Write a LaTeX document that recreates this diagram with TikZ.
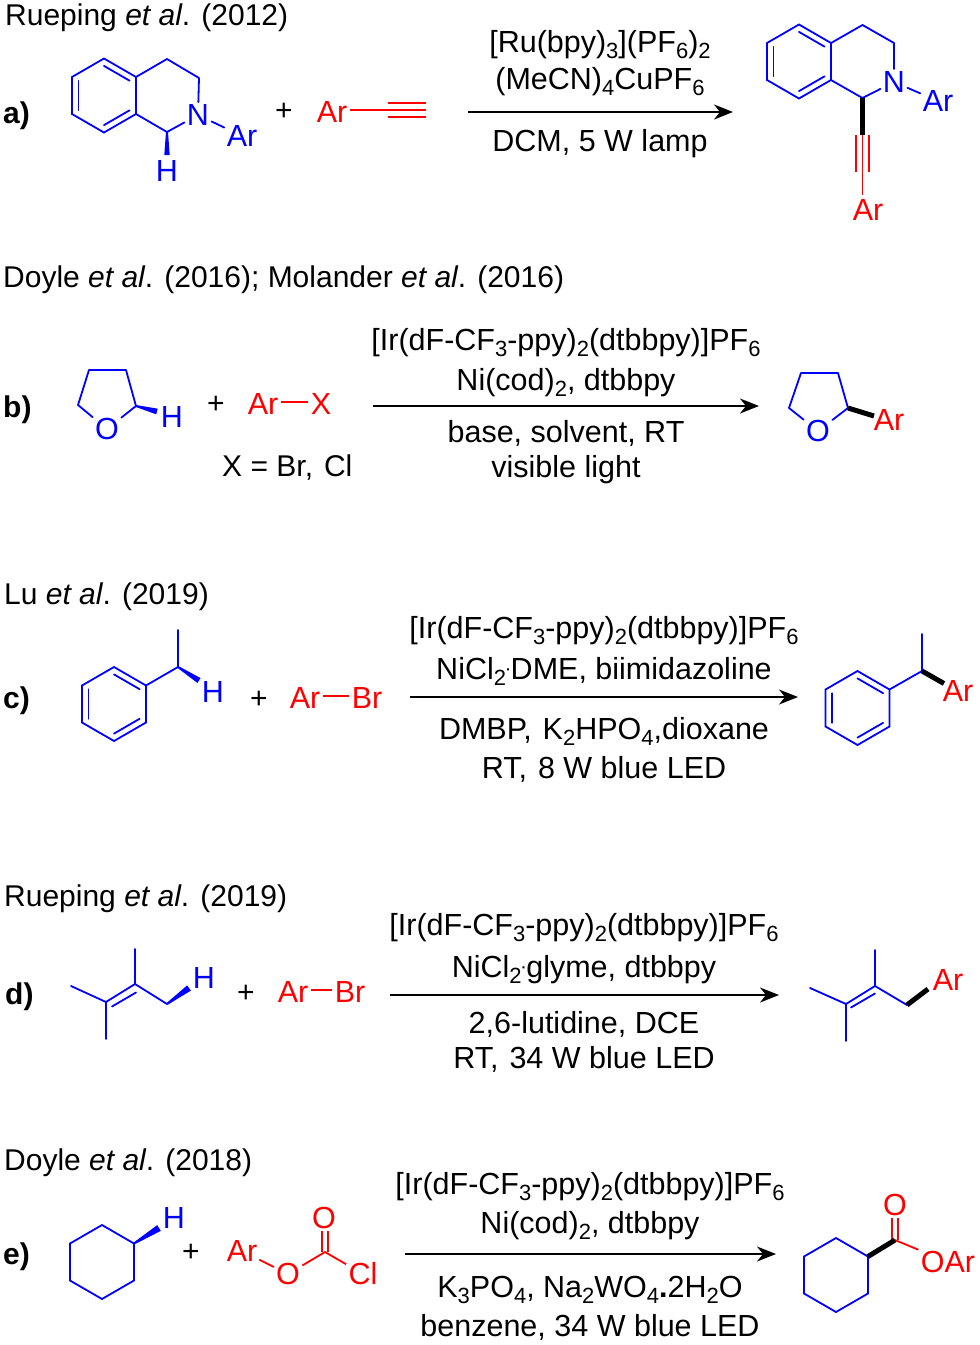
\documentclass[tikz,border=0pt]{standalone}
\usepackage{fontspec}
\setmainfont{Liberation Sans}
\usetikzlibrary{calc,arrows.meta}
\definecolor{cblue}{RGB}{0,0,255}
\definecolor{cred}{RGB}{255,0,0}
\newcommand\subs[1]{\raisebox{-6pt}{\fontsize{22}{22}\selectfont #1}}
\newcommand\gapp{\hspace{11pt}}
\newcommand\hexat[3]{%
  \coordinate (#1c) at (#2,#3);
  \coordinate (#11) at (#2,#3-37);
  \coordinate (#12) at (#2+32,#3-18.5);
  \coordinate (#13) at (#2+32,#3+18.5);
  \coordinate (#14) at (#2,#3+37);
  \coordinate (#15) at (#2-32,#3+18.5);
  \coordinate (#16) at (#2-32,#3-18.5);}
\newcommand\hexdraw[2][bond]{\draw[#1,line join=miter] (#21)--(#22)--(#23)--(#24)--(#25)--(#26)--cycle;}
\newcommand\hexkek[1]{%
  \draw[bond] ($(#11)!.2!(#1c)$)--($(#12)!.2!(#1c)$);
  \draw[bond] ($(#13)!.2!(#1c)$)--($(#14)!.2!(#1c)$);
  \draw[bond] ($(#15)!.2!(#1c)$)--($(#16)!.2!(#1c)$);}
% wedge: colour, half width at the wide end, narrow atom, wide end
\newcommand\wedgeb[4]{\fill[#1] ($(#3)!1pt!90:(#4)$) -- ($(#4)!#2!-90:(#3)$) -- ($(#4)!#2!90:(#3)$) -- ($(#3)!1pt!-90:(#4)$) -- cycle;}
\tikzset{
  x=1pt,y=-1pt,
  bond/.style={cblue,line width=1.8pt,line cap=round},
  rbond/.style={cred,line width=1.8pt,line cap=butt},
  hbond/.style={black,line width=5pt,line cap=butt},
  hd/.style={anchor=base west,inner sep=0pt,font=\fontsize{30}{30}\selectfont},
  lab/.style={anchor=base west,inner sep=0pt,font=\fontsize{30}{30}\selectfont\bfseries},
  cond/.style={anchor=base,inner sep=0pt,font=\fontsize{30.5}{30.5}\selectfont},
  plusn/.style={anchor=center,inner sep=0pt,font=\fontsize{30}{30}\selectfont},
  ab/.style={anchor=center,inner sep=0pt,outer sep=2.5pt,text=cblue,font=\fontsize{30.5}{30.5}\selectfont},
  ar/.style={anchor=center,inner sep=0pt,outer sep=2.5pt,text=cred,font=\fontsize{30.5}{30.5}\selectfont},
  rxn/.style={line width=1.9pt,-{Stealth[length=19pt,width=15pt,inset=6pt]}},
}
\begin{document}
\begin{tikzpicture}
\useasboundingbox (0,0) rectangle (980,1345);
\fill[white] (0,0) rectangle (980,1345);
% ---------- a
\node[hd] (ha) at (5,25) {Rueping \textit{et al}. (2012)};
\node[lab] (la) at (3,123) {a)};
\hexat{A}{104}{95.5}
\hexdraw{A}\hexkek{A}
\coordinate (A7) at (167,59);
\coordinate (A8) at (199,78);
\coordinate (A9) at (167,132);
\coordinate (AW) at (167,155);
\node[ab] (AN) at (198,115) {N};
\node[ab] (AAr) at (242,136) {Ar};
\node[ab] (AH) at (167,171) {H};
\draw[bond,line join=round] (A2)--(A7)--(A8)--(AN);
\draw[bond,line join=round] (A3)--(A9)--(AN);
\draw[bond] (AN)--(AAr);
\wedgeb{cblue}{2.7pt}{A9}{AW}
\node[plusn] (pa) at (284,111.5) {+};
\node[ar] (ARa) at (332,112) {Ar};
\coordinate (Ta) at (388,110);
\coordinate (Tb) at (426,110);
\draw[rbond] ([yshift=2pt]ARa.east)--(Ta)--(Tb);
\draw[rbond] ($(Ta)+(0,-7)$)--($(Tb)+(0,-7)$);
\draw[rbond] ($(Ta)+(0,7)$)--($(Tb)+(0,7)$);
\coordinate (a1) at (468,112);
\coordinate (a2) at (733,112);
\draw[rxn] (a1)--(a2);
\node[cond] (ca1) at (600,52) {[Ru(bpy)\subs{3}](PF\subs{6})\subs{2}};
\node[cond] (ca2) at (600,89) {(MeCN)\subs{4}CuPF\subs{6}};
\node[cond] (ca3) at (600,151) {DCM, 5 W lamp};
\hexat{P}{799}{61.5}
\hexdraw{P}\hexkek{P}
\coordinate (P7) at (862.5,25);
\coordinate (P8) at (894,43);
\coordinate (P9) at (862.5,98);
\coordinate (PW) at (862.5,135);
\coordinate (PT) at (862.5,172);
\coordinate (PE) at (862.5,195);
\node[ab] (PN) at (894,82) {N};
\node[ab] (PAr) at (938,101) {Ar};
\node[ar] (PAr2) at (868,210) {Ar};
\draw[bond,line join=round] (P2)--(P7)--(P8)--(PN);
\draw[bond,line join=round] (P3)--(P9)--(PN);
\draw[bond] (PN)--(PAr);
\draw[rbond] (PW)--(PE);
\draw[rbond] ($(PW)+(-6.8,0)$)--($(PT)+(-6.8,0)$);
\draw[rbond] ($(PW)+(6.8,0)$)--($(PT)+(6.8,0)$);
\draw[hbond] (P9)--(PW);
% ---------- b
\node[hd] (hb) at (3,287) {Doyle \textit{et al}. (2016); Molander \textit{et al}. (2016)};
\node[lab] (lb) at (3,417) {b)};
\coordinate (B1) at (89,370);
\coordinate (B2) at (126,370);
\coordinate (B3) at (136,406);
\coordinate (B4) at (78,405);
\coordinate (BW) at (157,411.5);
\node[ab] (BO) at (107,429) {O};
\node[ab] (BH) at (172,417) {H};
\draw[bond,line join=round] (BO)--(B4)--(B1)--(B2)--(B3)--(BO);
\wedgeb{cblue}{2.9pt}{B3}{BW}
\node[plusn] (pb) at (216,404.5) {+};
\node[ar] (ArB) at (263,404) {Ar};
\node[ar] (XB) at (321,404) {X};
\draw[rbond] ([yshift=2pt]ArB.east)--([yshift=2pt]XB.west);
\node[hd] (xeq) at (222,476) {X = Br,\gapp Cl};
\coordinate (b1) at (373,406);
\coordinate (b2) at (759,406);
\draw[rxn] (b1)--(b2);
\node[cond] (cb1) at (566,350) {[Ir(dF-CF\subs{3}-ppy)\subs{2}(dtbbpy)]PF\subs{6}};
\node[cond] (cb2) at (566,390) {Ni(cod)\subs{2}, dtbbpy};
\node[cond] (cb3) at (566,442) {base, solvent, RT};
\node[cond] (cb4) at (566,477) {visible light};
\coordinate (Q1) at (801,373);
\coordinate (Q2) at (838,373);
\coordinate (Q3) at (848,408);
\coordinate (Q4) at (789,408);
\coordinate (QW) at (874,416);
\node[ab] (QO) at (818,431) {O};
\node[ar] (QAr) at (889,420) {Ar};
\draw[bond,line join=round] (QO)--(Q4)--(Q1)--(Q2)--(Q3)--(QO);
\draw[hbond] (Q3)--(QW);
% ---------- c
\node[hd] (hc) at (4,604) {Lu \textit{et al}. (2019)};
\node[lab] (lc) at (3,708) {c)};
\hexat{C}{114}{704}
\hexdraw{C}\hexkek{C}
\coordinate (C7) at (178,667);
\coordinate (C8) at (178,630);
\coordinate (CW) at (199,680.5);
\node[ab] (CH) at (213,692) {H};
\draw[bond,line join=round] (C2)--(C7)--(C8);
\wedgeb{cblue}{2.9pt}{C7}{CW}
\node[plusn] (pc) at (259,699.5) {+};
\node[ar] (ArC) at (305,698) {Ar};
\node[ar] (BrC) at (367,698) {Br};
\draw[rbond] ([yshift=2pt]ArC.east)--([yshift=2pt]BrC.west);
\coordinate (c1) at (410,697);
\coordinate (c2) at (798,697);
\draw[rxn] (c1)--(c2);
\node[cond] (cc1) at (604,638) {[Ir(dF-CF\subs{3}-ppy)\subs{2}(dtbbpy)]PF\subs{6}};
\node[cond] (cc2) at (604,679) {NiCl\subs{2}\raisebox{5pt}{\fontsize{14}{14}\selectfont\bfseries ·}DME, biimidazoline};
\node[cond] (cc3) at (604,739) {DMBP,\gapp K\subs{2}HPO\subs{4},dioxane};
\node[cond] (cc4) at (604,778) {RT,\gapp 8 W blue LED};
\hexat{D}{857.5}{708}
\hexdraw{D}\hexkek{D}
\coordinate (D7) at (922,671);
\coordinate (D8) at (922,634);
\coordinate (DW) at (944,683.5);
\node[ar] (DAr) at (958,691) {Ar};
\draw[bond,line join=round] (D2)--(D7)--(D8);
\draw[hbond] (D7)--(DW);
% ---------- d
\node[hd] (hd) at (4,906) {Rueping \textit{et al}. (2019)};
\node[lab] (ld) at (5,1004) {d)};
\coordinate (E1) at (135,949);
\coordinate (E2) at (135,984);
\coordinate (E3) at (106,1002);
\coordinate (E4) at (71,986);
\coordinate (E5) at (106,1039);
\coordinate (E6) at (167,1004);
\coordinate (EW) at (189,988);
\coordinate (Ei1) at (112,1006.5);
\coordinate (Ei2) at (136,992.5);
\node[ab] (EH) at (204,978) {H};
\draw[bond,line join=round] (E1)--(E2)--(E3)--(E4);
\draw[bond] (E3)--(E5);
\draw[bond] (E2)--(E6);
\draw[bond] (Ei1)--(Ei2);
\wedgeb{cblue}{3.2pt}{E6}{EW}
\node[plusn] (pd) at (246,993.5) {+};
\node[ar] (ArD) at (293,992) {Ar};
\node[ar] (BrD) at (350,992) {Br};
\draw[rbond] ([yshift=2pt]ArD.east)--([yshift=2pt]BrD.west);
\coordinate (d1) at (390,995);
\coordinate (d2) at (779,995);
\draw[rxn] (d1)--(d2);
\node[cond] (cd1) at (584,935) {[Ir(dF-CF\subs{3}-ppy)\subs{2}(dtbbpy)]PF\subs{6}};
\node[cond] (cd2) at (584,977) {NiCl\subs{2}\raisebox{5pt}{\fontsize{14}{14}\selectfont\bfseries ·}glyme, dtbbpy};
\node[cond] (cd3) at (584,1033) {2,6-lutidine, DCE};
\node[cond] (cd4) at (584,1068) {RT,\gapp 34 W blue LED};
\coordinate (F1) at (875,950);
\coordinate (F2) at (875,986);
\coordinate (F3) at (846,1004);
\coordinate (F4) at (810,988);
\coordinate (F5) at (846,1041);
\coordinate (F6) at (907,1005);
\coordinate (FW) at (928,989);
\coordinate (Fi1) at (851,1007.5);
\coordinate (Fi2) at (875,993.5);
\node[ar] (FAr) at (948,980) {Ar};
\draw[bond,line join=round] (F1)--(F2)--(F3)--(F4);
\draw[bond] (F3)--(F5);
\draw[bond] (F2)--(F6);
\draw[bond] (Fi1)--(Fi2);
\draw[hbond] (F6)--(FW);
% ---------- e
\node[hd] (he) at (4,1170) {Doyle \textit{et al}. (2018)};
\node[lab] (le) at (3,1264) {e)};
\hexat{G}{102}{1262}
\hexdraw{G}
\coordinate (GW) at (159,1228);
\node[ab] (GH) at (174,1218) {H};
\wedgeb{cblue}{3.4pt}{G2}{GW}
\node[plusn] (pe) at (191,1252.5) {+};
\node[ar] (ArE) at (242,1251) {Ar};
\node[ar] (OE) at (288,1274) {O};
\node[ar] (ClE) at (363,1274) {Cl};
\node[ar] (OdE) at (324,1218) {O};
\coordinate (EC) at (325,1252);
\draw[rbond,line cap=round] (ArE)--(OE);
\draw[rbond,line join=round] (OE)--(EC)--(ClE);
\draw[rbond] ($(EC)+(-2.8,0)$)--($(OdE.south)+(-1.8,0)$);
\draw[rbond] ($(EC)+(2.8,0)$)--($(OdE.south)+(3.8,0)$);
\coordinate (e1) at (405,1254);
\coordinate (e2) at (776,1254);
\draw[rxn] (e1)--(e2);
\node[cond] (ce1) at (590,1194) {[Ir(dF-CF\subs{3}-ppy)\subs{2}(dtbbpy)]PF\subs{6}};
\node[cond] (ce2) at (590,1233) {Ni(cod)\subs{2}, dtbbpy};
\node[cond] (ce3) at (590,1297) {K\subs{3}PO\subs{4}, Na\subs{2}WO\subs{4}\textbf{.}2H\subs{2}O};
\node[cond] (ce4) at (590,1336) {benzene, 34 W blue LED};
\hexat{H}{836}{1275}
\hexdraw{H}
\coordinate (HC) at (895,1240);
\node[ar] (HO) at (895,1205) {O};
\node[ar] (HOAr) at (948,1262) {OAr};
\draw[rbond] (HC)--(HOAr);
\draw[rbond] ($(HC)+(-2.8,0)$)--($(HO.south)+(-2.8,0)$);
\draw[rbond] ($(HC)+(2.8,0)$)--($(HO.south)+(2.8,0)$);
\draw[hbond] (H2)--(HC);
\end{tikzpicture}
\end{document}
